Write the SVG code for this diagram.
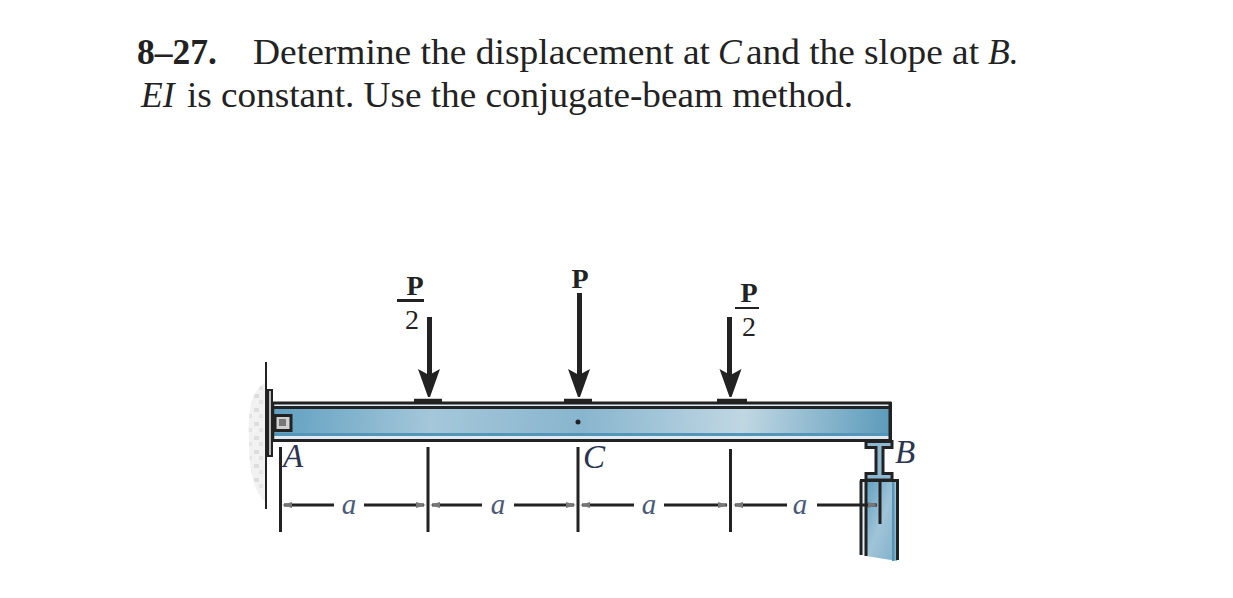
<svg xmlns="http://www.w3.org/2000/svg" width="1233" height="598" viewBox="0 0 1233 598">
<style>
.t{font-family:"Liberation Serif","Times New Roman",serif;fill:#222}
.h{font-size:35.5px}
.i{font-style:italic}
.b{font-weight:bold;font-size:28px}
.n{font-size:28px}
.l{font-size:33px;font-style:italic;fill:#2c3450}
.a{font-size:29px;font-style:italic;fill:#4a5a78}
.k{stroke:#222;fill:none}
.g{fill:#777}
.h2{fill:#222}
</style>
<defs>
<linearGradient id="beam" gradientUnits="userSpaceOnUse" x1="272" y1="400" x2="891" y2="445">
<stop offset="0" stop-color="#5f9fc0"/>
<stop offset=".26" stop-color="#a5c7da"/>
<stop offset=".5" stop-color="#88b5ce"/>
<stop offset=".76" stop-color="#c0d7e3"/>
<stop offset="1" stop-color="#5a9aba"/>
</linearGradient>
<linearGradient id="post" x1="0" y1="0" x2="1" y2="1">
<stop offset="0" stop-color="#5f9fc0"/>
<stop offset=".5" stop-color="#a0c4d8"/>
<stop offset="1" stop-color="#7fb0ca"/>
</linearGradient>
<pattern id="stip" width="11" height="14" patternUnits="userSpaceOnUse">
<rect width="11" height="14" fill="#f2f2f2"/>
<rect x="1" y="2" width="5" height="4" fill="#dedede"/>
<rect x="6" y="8" width="4" height="4" fill="#e4e4e4"/>
</pattern>
<path id="ah" d="M-11 0L0 6L11 0L1 28H-1Z"/>
</defs>

<g id="problem-text">
<text class="t h" x="137" y="64" style="font-weight:bold">8–27.</text>
<text class="t h" x="253" y="64" textLength="457" lengthAdjust="spacingAndGlyphs">Determine the displacement at</text>
<text class="t h i" x="718" y="64">C</text>
<text class="t h" x="746" y="64" textLength="233" lengthAdjust="spacingAndGlyphs">and the slope at</text>
<text class="t h i" x="988" y="64">B.</text>
<text class="t h i" x="141" y="107">EI</text>
<text class="t h" x="187" y="107" textLength="666" lengthAdjust="spacingAndGlyphs">is constant. Use the conjugate-beam method.</text>
</g>

<g id="support-A">
<path d="M266 382Q246 392 249 440Q249 490 266 502Z" fill="url(#stip)"/>
<path class="k" stroke-width="2" d="M266 362V509"/>
<rect x="268" y="390" width="4" height="66" fill="#bdbdbd" stroke="#222" stroke-width="2"/>
</g>

<g id="beam-AB">
<rect x="272" y="403" width="619" height="38" fill="#dfeaf2"/>
<rect x="272" y="408" width="619" height="27" fill="url(#beam)"/>
<rect x="272" y="433" width="619" height="3" fill="#5596b8"/>
<path class="k" stroke-width="3" d="M272 403H890V440.500H272M272 407.500H890"/>
<path d="M890.500 402V442" stroke="#222" stroke-width="3"/>
<path d="M273 402V442" stroke="#222" stroke-width="2.500"/>
<rect x="275" y="415.500" width="16" height="15" fill="#d0d0d0" stroke="#222" stroke-width="3"/>
<rect x="279" y="419" width="7" height="7" fill="#777"/>
<circle cx="578" cy="422" r="2.500" fill="#222"/>
</g>

<g id="support-B">
<path d="M866 441.500H892V447.500H883V473.500H892V480H866V473.500H876V447.500H866Z" fill="#8db8d2" stroke="#222" stroke-width="3"/>
<path d="M866 480H897V561L866 556Z" fill="url(#post)"/>
<rect x="861" y="480" width="5" height="75" fill="#e4eef4"/>
<rect x="892" y="481" width="2.500" height="80" fill="#5596b8"/>
<path d="M861 480.500V555M866 480V556M897.500 480V560M860 480.500H899M880 480V524" class="k" stroke-width="3"/>
</g>

<g id="connectors">
<path class="k" stroke-width="5" d="M429.500 317V376M579.500 293V376M729.500 317V376"/>
<use href="#ah" class="h2" x="429" y="369"/>
<use href="#ah" class="h2" x="579" y="369"/>
<use href="#ah" class="h2" x="730.500" y="369"/>
<path d="M414 400.500H442M564 400.500H592M717 400.500H747" class="k" stroke-width="3.500"/>
<path class="k" stroke-width="3" d="M280.500 447V532M428 447V532M578 447V532M730.500 449V532"/>
<path class="k" stroke-width="3" d="M284 505H334M364 505H424M432 505H482M514 505H574M582 505H634M664 505H727M735 505H787M817 505H877"/>
<path class="g" d="M282 505L292 502V508ZM426 505L416 502V508ZM430 505L440 502V508ZM576 505L566 502V508ZM580 505L590 502V508ZM728 505L718 502V508ZM733 505L743 502V508ZM878 505L868 502V508Z"/>
</g>

<g id="labels">
<text class="t b" x="415" y="295" text-anchor="middle">P</text>
<path class="k" stroke-width="3" d="M397 300.500H424"/>
<text class="t n" x="412" y="329" text-anchor="middle">2</text>
<text class="t b" x="580" y="288" text-anchor="middle">P</text>
<text class="t b" x="749" y="302" text-anchor="middle">P</text>
<path class="k" stroke-width="2" d="M735 308H759"/>
<text class="t n" x="749" y="336" text-anchor="middle">2</text>
<text class="t l" x="283" y="467">A</text>
<text class="t l" x="583" y="468">C</text>
<text class="t l" x="895" y="463">B</text>
<text class="t a" x="349" y="514" text-anchor="middle">a</text>
<text class="t a" x="498" y="514" text-anchor="middle">a</text>
<text class="t a" x="649" y="514" text-anchor="middle">a</text>
<text class="t a" x="800" y="514" text-anchor="middle">a</text>
</g>
</svg>
